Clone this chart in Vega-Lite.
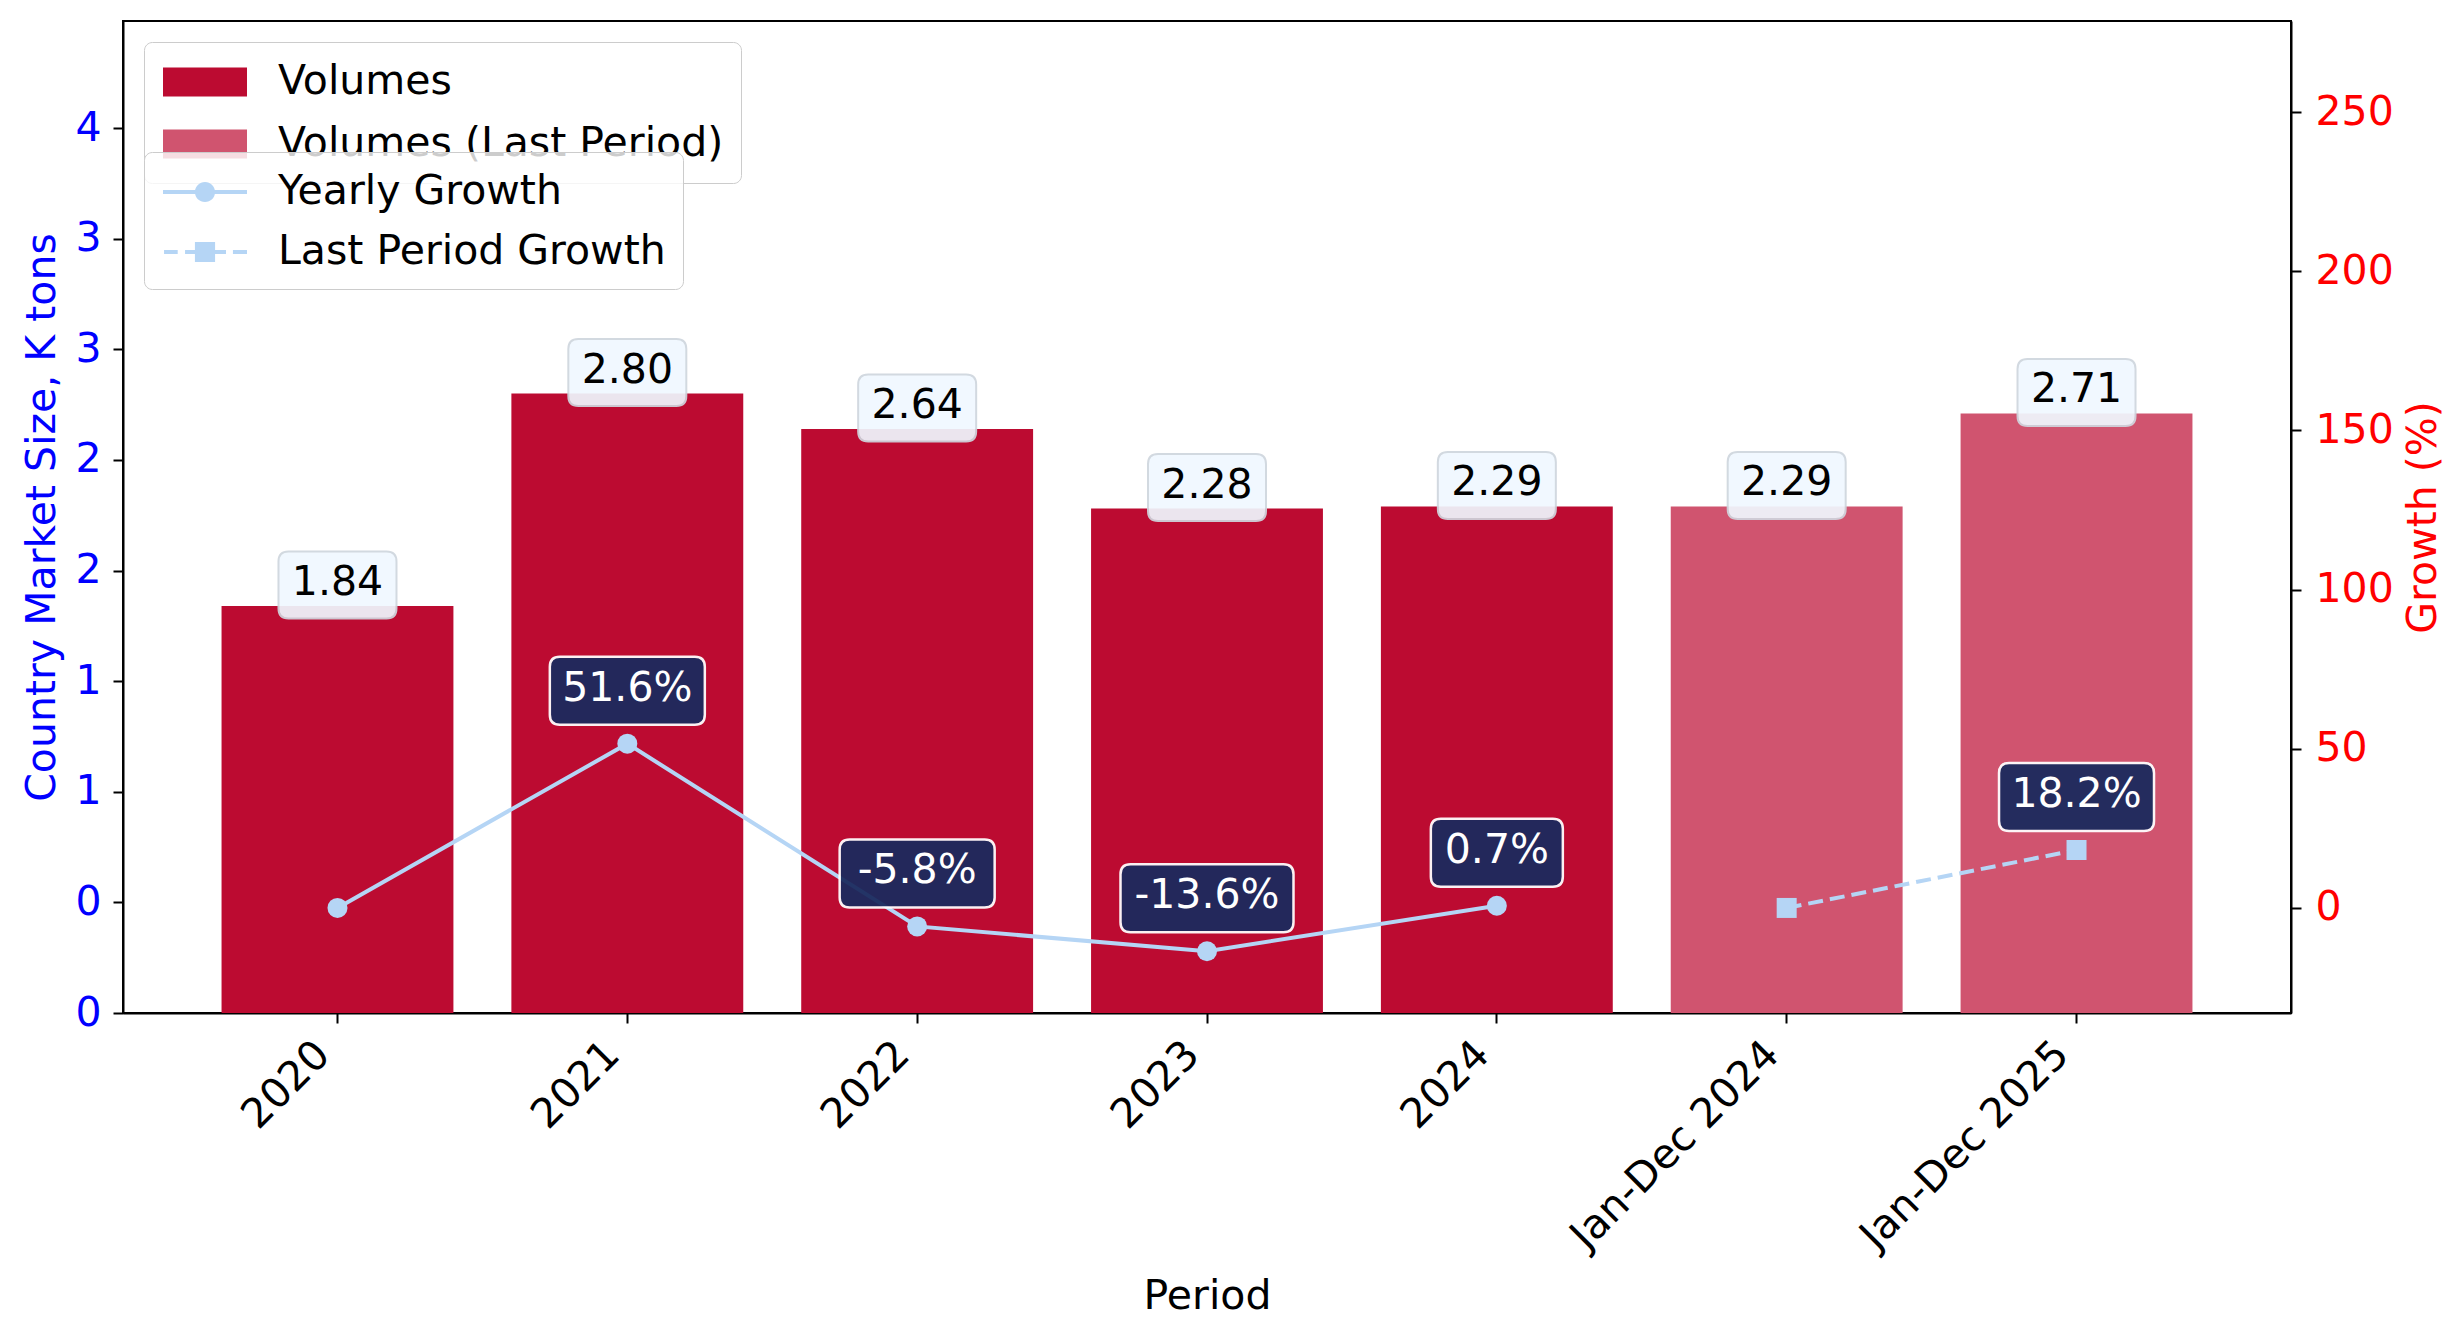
{
  "$schema": "https://vega.github.io/schema/vega-lite/v6.json",
  "width": 2168,
  "height": 992,
  "autosize": {"type": "none"},
  "padding": {"left": 123, "top": 21, "right": 173, "bottom": 325},
  "background": "white",
  "config": {
    "font": "DejaVu Sans",
    "view": {"stroke": "black", "strokeWidth": 2},
    "axis": {"grid": false, "labelFontSize": 41, "titleFontSize": 41, "titleFontWeight": "normal",
             "tickSize": 10, "tickWidth": 2, "tickColor": "black", "domainColor": "black", "domainWidth": 2,
             "labelColor": "black", "titleColor": "black", "labelLimit": 1000},
    "legend": {"labelFontSize": 41, "labelColor": "black", "labelLimit": 1000}
  },
  "data": {
    "values": [
      {"period": "2020", "volume": 1.84, "growth": 0, "type": "Yearly"},
      {"period": "2021", "volume": 2.80, "growth": 51.6, "type": "Yearly"},
      {"period": "2022", "volume": 2.64, "growth": -5.8, "type": "Yearly"},
      {"period": "2023", "volume": 2.28, "growth": -13.6, "type": "Yearly"},
      {"period": "2024", "volume": 2.29, "growth": 0.7, "type": "Yearly"},
      {"period": "Jan-Dec 2024", "volume": 2.29, "growth": 0, "type": "Last Period"},
      {"period": "Jan-Dec 2025", "volume": 2.71, "growth": 18.2, "type": "Last Period"}
    ]
  },
  "encoding": {
    "x": {
      "field": "period", "type": "nominal", "sort": null, "title": "Period",
      "scale": {"paddingInner": 0.2, "paddingOuter": 0.34},
      "axis": {"labelAngle": -45, "labelAlign": "right", "labelBaseline": "middle",
               "labelOffset": -14, "labelPadding": 25, "titlePadding": 63}
    }
  },
  "layer": [
    {
      "encoding": {
        "y": {
          "field": "volume", "type": "quantitative",
          "scale": {"domain": [0, 4.484], "nice": false, "zero": false},
          "axis": {"orient": "left", "title": "Country Market Size, K tons",
                   "values": [0, 0.5, 1, 1.5, 2, 2.5, 3, 3.5, 4],
                   "labelExpr": "format(floor(datum.value), 'd')",
                   "labelColor": "#0000ff", "titleColor": "#0000ff",
                   "labelPadding": 12, "titlePadding": 11}
        }
      },
      "layer": [
        {
          "mark": {"type": "bar"},
          "encoding": {
            "color": {
              "field": "type", "type": "nominal",
              "scale": {"domain": ["Yearly", "Last Period"], "range": ["#bc0b31", "#d0546f"]},
              "legend": {
                "orient": "none", "legendX": 21, "legendY": 21, "title": null,
                "labelExpr": "datum.value == 'Yearly' ? 'Volumes' : 'Volumes (Last Period)'",
                "symbolType": "M-2,-0.69L2,-0.69L2,0.69L-2,0.69Z",
                "symbolSize": 1764, "symbolStrokeWidth": 3.5, "symbolStrokeColor": "transparent",
                "symbolOpacity": 1, "symbolOffset": 21, "labelOffset": 50,
                "padding": 17, "rowPadding": 17,
                "strokeColor": "#cccccc",
                "fillColor": "rgba(255,255,255,0.8)", "cornerRadius": 8
              }
            }
          }
        },
        {
          "mark": {"type": "point", "filled": true, "size": 10000, "yOffset": -21,
                   "shape": "M-0.98,-0.67L0.98,-0.67Q1.18,-0.67,1.18,-0.47L1.18,0.47Q1.18,0.67,0.98,0.67L-0.98,0.67Q-1.18,0.67,-1.18,0.47L-1.18,-0.47Q-1.18,-0.67,-0.98,-0.67Z",
                   "fill": "#f0f8ff", "stroke": "#cfd6de", "strokeWidth": 2, "opacity": 0.92}
        },
        {
          "mark": {"type": "text", "fontSize": 41, "color": "black", "baseline": "middle", "yOffset": -21, "dy": -2},
          "encoding": {"text": {"field": "volume", "type": "quantitative", "format": ".2f"}}
        }
      ]
    },
    {
      "encoding": {
        "y": {
          "field": "growth", "type": "quantitative",
          "scale": {"domain": [-33, 278.6], "nice": false, "zero": false},
          "axis": {"orient": "right", "title": "Growth (%)",
                   "values": [0, 50, 100, 150, 200, 250],
                   "labelColor": "#ff0000", "titleColor": "#ff0000",
                   "labelPadding": 14, "titlePadding": 10,
                   "titleAngle": 270, "titleBaseline": "top"}
        }
      },
      "layer": [
        {
          "transform": [{"filter": "datum.type == 'Yearly'"}],
          "mark": {"type": "line", "strokeWidth": 4, "color": "#b5d5f5"}
        },
        {
          "transform": [{"filter": "datum.type == 'Last Period'"}],
          "mark": {"type": "line", "strokeWidth": 4, "color": "#b5d5f5", "strokeDash": [15, 7]}
        },
        {
          "transform": [{"filter": "datum.type == 'Yearly'"}],
          "mark": {"type": "point", "filled": true, "size": 400, "opacity": 1, "shape": "circle", "color": "#b5d5f5"}
        },
        {
          "transform": [{"filter": "datum.type == 'Last Period'"}],
          "mark": {"type": "point", "filled": true, "size": 400, "opacity": 1, "shape": "square", "color": "#b5d5f5"}
        },
        {
          "mark": {"type": "point", "filled": true, "opacity": 0, "color": "#b5d5f5"},
          "encoding": {
            "shape": {
              "field": "type", "type": "nominal", "sort": "descending",
              "scale": {"range": [
                "M-2,-0.095L2,-0.095L2,0.095L-2,0.095ZM0.48,0A0.48,0.48,0,1,1,-0.48,0A0.48,0.48,0,1,1,0.48,0Z",
                "M-1.95,-0.095L-1.3,-0.095L-1.3,0.095L-1.95,0.095ZM-0.95,-0.095L-0.48,-0.095L-0.48,0.095L-0.95,0.095ZM0.48,-0.095L1,-0.095L1,0.095L0.48,0.095ZM1.33,-0.095L2,-0.095L2,0.095L1.33,0.095ZM-0.48,-0.48L0.48,-0.48L0.48,0.48L-0.48,0.48Z"
              ]},
              "legend": {
                "orient": "none", "legendX": 21, "legendY": 131, "title": null, "zindex": 1,
                "labelExpr": "datum.value == 'Yearly' ? 'Yearly Growth' : 'Last Period Growth'",
                "symbolSize": 1764, "symbolStrokeWidth": 3.5, "symbolOffset": 21, "labelOffset": 50,
                "symbolOpacity": 1, "symbolFillColor": "#b5d5f5", "symbolStrokeColor": "transparent",
                "padding": 17, "rowPadding": 17,
                "strokeColor": "#cccccc",
                "fillColor": "rgba(255,255,255,0.8)", "cornerRadius": 8
              }
            }
          }
        },
        {
          "transform": [
            {"filter": "datum.growth != 0"},
            {"calculate": "(datum.growth < 0 ? '-' : '') + format(abs(datum.growth), '.1f') + '%'", "as": "label"}
          ],
          "layer": [
            {
              "transform": [{"filter": "length(datum.label) == 4"}],
              "mark": {"type": "point", "filled": true, "size": 10000, "yOffset": -53,
                       "fill": "#1a2a5e", "stroke": "white", "strokeWidth": 2.5, "opacity": 0.94,
                       "shape": "M-1.12,-0.68L1.12,-0.68Q1.32,-0.68,1.32,-0.48L1.32,0.48Q1.32,0.68,1.12,0.68L-1.12,0.68Q-1.32,0.68,-1.32,0.48L-1.32,-0.48Q-1.32,-0.68,-1.12,-0.68Z"}
            },
            {
              "transform": [{"filter": "length(datum.label) == 5"}],
              "mark": {"type": "point", "filled": true, "size": 10000, "yOffset": -53,
                       "fill": "#1a2a5e", "stroke": "white", "strokeWidth": 2.5, "opacity": 0.94,
                       "shape": "M-1.35,-0.68L1.35,-0.68Q1.55,-0.68,1.55,-0.48L1.55,0.48Q1.55,0.68,1.35,0.68L-1.35,0.68Q-1.55,0.68,-1.55,0.48L-1.55,-0.48Q-1.55,-0.68,-1.35,-0.68Z"}
            },
            {
              "transform": [{"filter": "length(datum.label) == 6"}],
              "mark": {"type": "point", "filled": true, "size": 10000, "yOffset": -53,
                       "fill": "#1a2a5e", "stroke": "white", "strokeWidth": 2.5, "opacity": 0.94,
                       "shape": "M-1.53,-0.68L1.53,-0.68Q1.73,-0.68,1.73,-0.48L1.73,0.48Q1.73,0.68,1.53,0.68L-1.53,0.68Q-1.73,0.68,-1.73,0.48L-1.73,-0.48Q-1.73,-0.68,-1.53,-0.68Z"}
            },
            {
              "mark": {"type": "text", "fontSize": 41, "color": "white", "baseline": "middle", "yOffset": -53, "dy": -2},
              "encoding": {"text": {"field": "label", "type": "nominal"}}
            }
          ]
        }
      ]
    }
  ],
  "resolve": {"scale": {"y": "independent"}}
}
